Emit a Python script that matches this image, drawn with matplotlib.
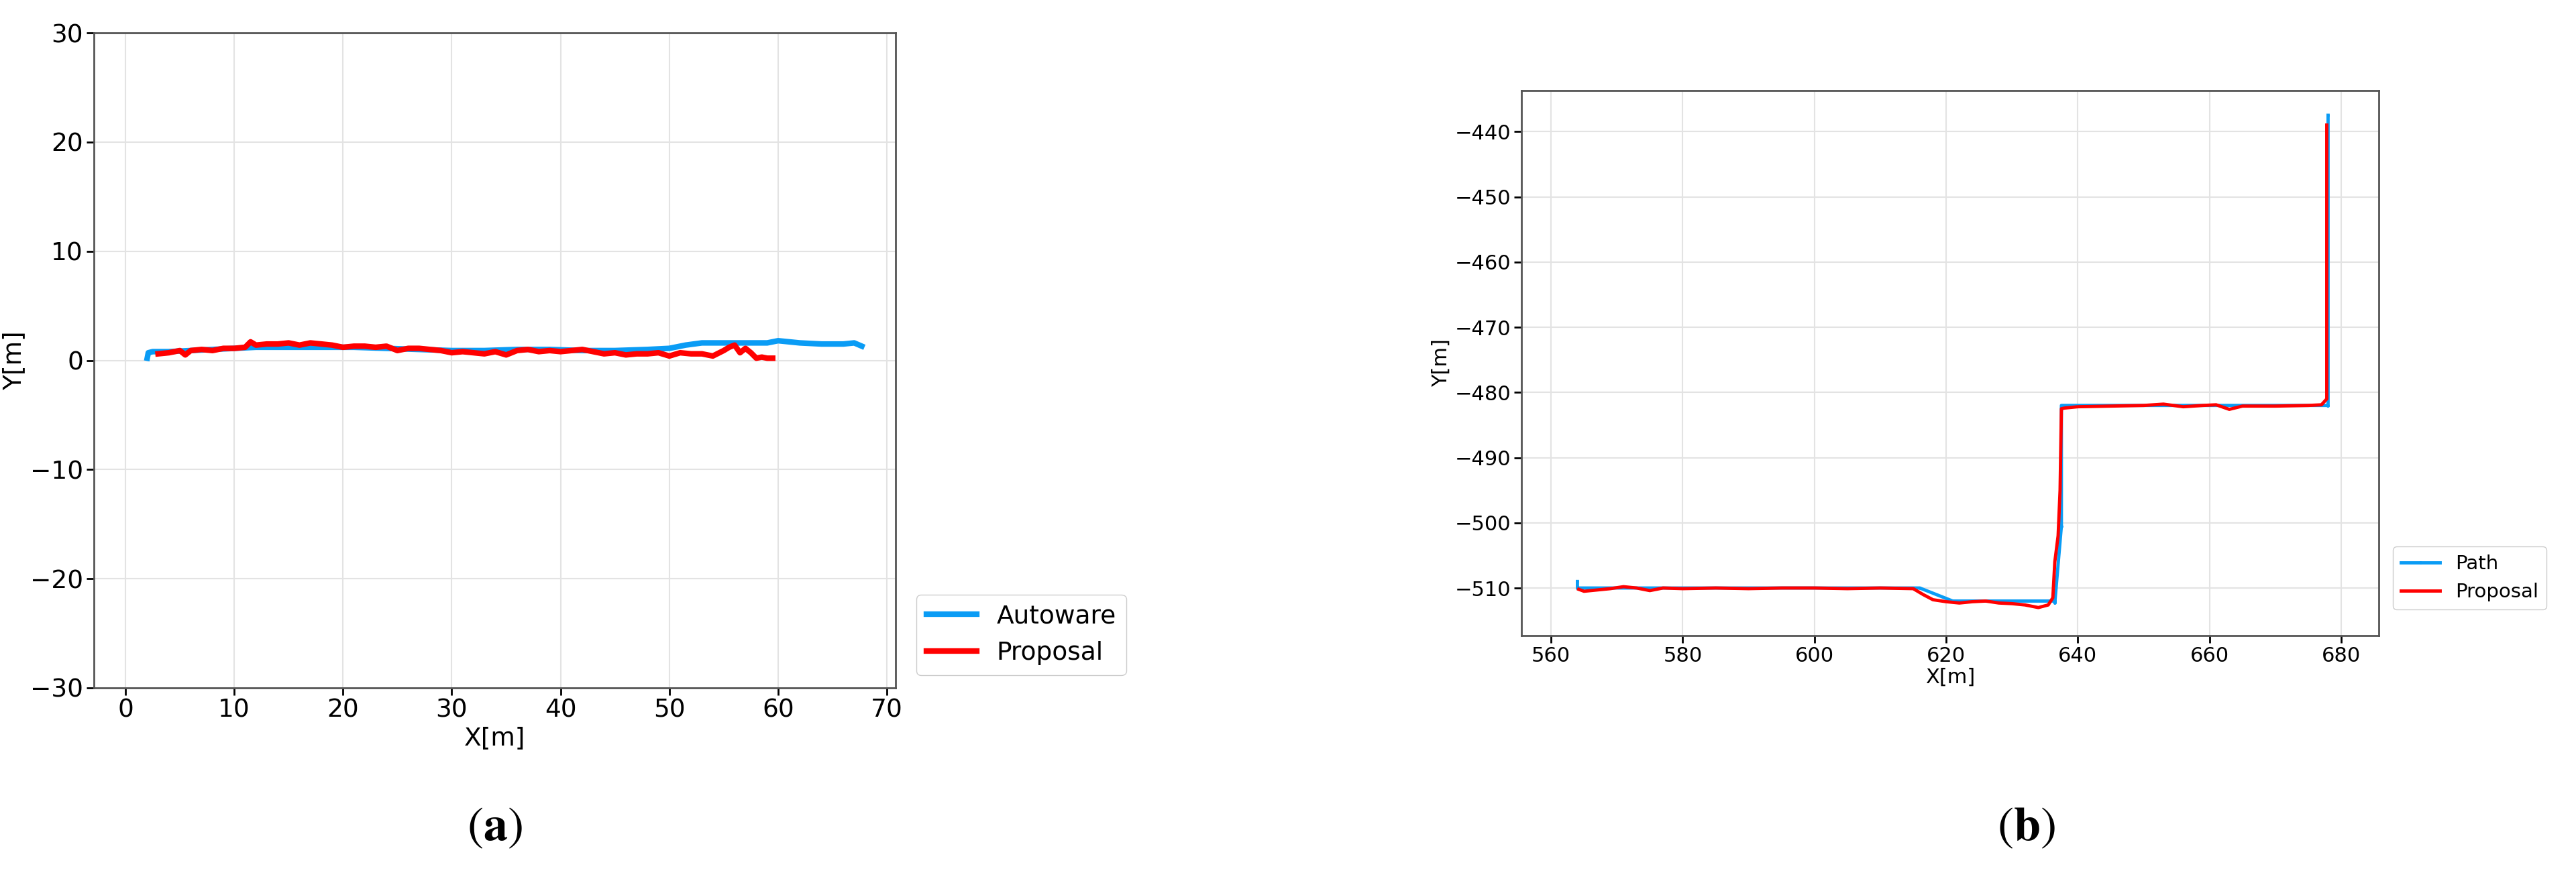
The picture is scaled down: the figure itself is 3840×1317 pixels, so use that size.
import matplotlib
matplotlib.use("Agg")
import matplotlib.pyplot as plt
import numpy as np

# Left panel (a)
auto_x = [2.0, 2.1, 2.5, 4, 6, 8, 10, 12, 15, 18, 21, 24, 27, 30, 33, 36, 39, 42, 45, 48, 50, 51.5, 53, 55, 57, 59, 60, 62, 64, 66, 67, 67.7]
auto_y = [0.2, 0.7, 0.8, 0.8, 0.9, 1.0, 1.1, 1.2, 1.2, 1.2, 1.2, 1.1, 1.0, 0.9, 0.9, 1.0, 1.0, 0.9, 0.9, 1.0, 1.1, 1.4, 1.6, 1.6, 1.6, 1.6, 1.8, 1.6, 1.5, 1.5, 1.6, 1.3]
prop_x = [3, 4, 5, 5.5, 6, 7, 8, 9, 10, 11, 11.5, 12, 13, 14, 15, 16, 17, 18, 19, 20, 21, 22, 23, 24, 25, 26, 27, 28, 29, 30, 31, 32, 33, 34, 35, 36, 37, 38, 39, 40, 41, 42, 43, 44, 45, 46, 47, 48, 49, 50, 51, 52, 53, 54, 55, 55.5, 56, 56.5, 57, 57.5, 58, 58.5, 59, 59.5]
prop_y = [0.6, 0.7, 0.9, 0.5, 0.9, 1.0, 0.9, 1.1, 1.1, 1.2, 1.7, 1.4, 1.5, 1.5, 1.6, 1.4, 1.6, 1.5, 1.4, 1.2, 1.3, 1.3, 1.2, 1.3, 0.9, 1.1, 1.1, 1.0, 0.9, 0.7, 0.8, 0.7, 0.6, 0.8, 0.5, 0.9, 1.0, 0.8, 0.9, 0.8, 0.9, 1.0, 0.8, 0.6, 0.7, 0.5, 0.6, 0.6, 0.7, 0.4, 0.7, 0.6, 0.6, 0.4, 0.9, 1.2, 1.4, 0.7, 1.1, 0.7, 0.2, 0.3, 0.2, 0.2]

# Right panel (b)
path_x = [564, 564, 564.2, 616, 621, 636.5, 636.5, 637.5, 637.5, 678, 678, 678]
path_y = [-509, -510, -510, -510, -512, -512, -512.3, -500.5, -482, -482, -482, -437.5]
prop2_x = [564.2, 565, 567, 569, 571, 573, 575, 577, 580, 585, 590, 595, 600, 605, 610, 615, 616.5, 618, 620, 622, 624, 626, 628, 630, 632, 634, 635.5, 636.2, 636.5, 637, 637.3, 637.5, 638, 640, 645, 650, 653, 656, 659, 661, 663, 665, 670, 675, 677, 677.8, 677.8, 677.8]
prop2_y = [-510.2, -510.5, -510.3, -510.1, -509.8, -510.0, -510.4, -510.0, -510.1, -510.0, -510.1, -510.0, -510.0, -510.1, -510.0, -510.1, -511.0, -511.8, -512.1, -512.3, -512.1, -512.0, -512.3, -512.4, -512.6, -513.0, -512.6, -511.5, -506.0, -502.0, -495.0, -482.5, -482.4, -482.2, -482.1, -482.0, -481.8, -482.2, -482.0, -481.9, -482.6, -482.1, -482.1, -482.0, -481.9, -481.0, -460.0, -439.0]

blue = "#0a9cf5"
plt.rcParams['mathtext.fontset'] = 'stix'
fig = plt.figure(figsize=(38.4, 13.17), dpi=100)

def style(ax, fs):
    ax.grid(True, color="#e3e3e3", linewidth=1.5)
    ax.set_axisbelow(True)
    for s in ax.spines.values():
        s.set_color("#555555")
        s.set_linewidth(2)
    ax.tick_params(labelsize=fs, length=8, width=2)

ax1 = fig.add_axes([140/3840, 1 - 1026/1317, (1335-140)/3840, (1026-49)/1317])
ax1.plot(auto_x, auto_y, color=blue, lw=6, marker='.', ms=4, label="Autoware")
ax1.plot(prop_x, prop_y, color="red", lw=6, marker='.', ms=4, label="Proposal")
ax1.set_xlim(-2.9, 70.8)
ax1.set_ylim(-30, 30)
ax1.set_xticks(range(0, 71, 10))
ax1.set_yticks(range(-30, 31, 10))
ax1.set_xlabel("X[m]", fontsize=27, labelpad=4)
ax1.set_ylabel("Y[m]", fontsize=27, labelpad=4)
style(ax1, 27)
ax1.legend(loc="lower left", bbox_to_anchor=(1.01, 0.0), fontsize=27, handlelength=2, framealpha=1)

ax2 = fig.add_axes([2268/3840, 1 - 948/1317, (3546-2268)/3840, (948-135)/1317])
ax2.plot(path_x, path_y, color=blue, lw=3.5, marker='.', ms=5, label="Path")
ax2.plot(prop2_x, prop2_y, color="red", lw=3.5, label="Proposal")
ax2.set_xlim(555.5, 685.7)
ax2.set_ylim(-517.3, -433.7)
ax2.set_xticks(range(560, 681, 20))
ax2.set_yticks(range(-510, -439, 10))
ax2.set_xlabel("X[m]", fontsize=22, labelpad=2)
ax2.set_ylabel("Y[m]", fontsize=22, labelpad=4)
style(ax2, 22)
ax2.legend(loc="lower left", bbox_to_anchor=(1.005, 0.03), fontsize=21, handlelength=2, framealpha=1)

fig.text(737/3840, 1 - 1237/1317, r"($\mathbf{a}$)", fontsize=52, ha="center", va="center", family="STIXGeneral")
fig.text(3020/3840, 1 - 1237/1317, r"($\mathbf{b}$)", fontsize=52, ha="center", va="center", family="STIXGeneral")

fig.savefig("out.png", dpi=100)
